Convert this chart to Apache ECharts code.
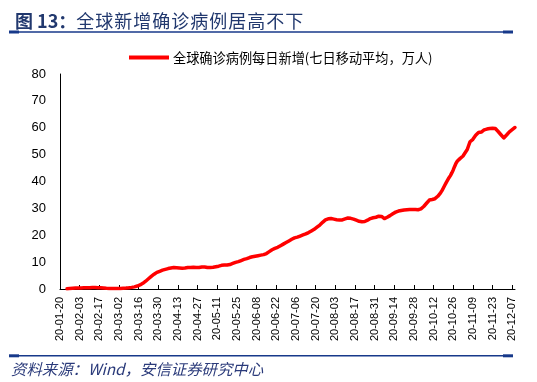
<!DOCTYPE html>
<html><head><meta charset="utf-8">
<script src="https://cdn.jsdelivr.net/npm/echarts/dist/echarts.min.js"></script>
<style>html,body{margin:0;padding:0;background:#fff}#c{width:537px;height:382px}</style>
</head><body><div id="c"></div>
<script>
const titleBold = '图 13：';
const titleRest = '全球新增确诊病例居高不下';
const seriesName = '全球确诊病例每日新增(七日移动平均，万人)';
const sourceText = '资料来源：Wind，安信证券研究中心';
const startDate = [2020, 0, 20];
const dayCount = 325;
const yMin = 0, yMax = 80, yStep = 10;
const tickEveryDays = 14;

// 7-day moving average of new global cases (10k persons), one value per day from 2020-01-20
const dailyCases = [
  null,null,null,null,null,0.1,0.15,0.2,0.25,0.3,0.3,0.35,0.35,0.4,
  0.4,0.4,0.45,0.45,0.5,0.5,0.5,0.5,0.5,0.55,0.6,0.6,0.55,0.5,
  0.5,0.45,0.4,0.35,0.3,0.25,0.2,0.2,0.2,0.2,0.2,0.2,0.2,0.2,
  0.2,0.2,0.25,0.3,0.3,0.35,0.4,0.45,0.5,0.6,0.7,0.8,0.95,1.1,
  1.3,1.5,1.8,2.1,2.5,2.9,3.3,3.8,4.2,4.7,5.1,5.5,5.9,6.2,
  6.4,6.6,6.8,7.0,7.1,7.3,7.4,7.6,7.7,7.8,7.9,8.0,8.0,7.9,
  7.9,7.8,7.8,7.7,7.7,7.8,7.9,8.0,8.0,8.0,8.1,8.1,8.1,8.0,
  8.0,8.0,8.1,8.2,8.2,8.2,8.1,8.0,8.0,8.0,8.0,8.1,8.2,8.3,
  8.4,8.5,8.7,8.8,8.9,8.9,8.9,8.9,9.0,9.1,9.3,9.5,9.7,9.9,
  10.0,10.2,10.4,10.6,10.8,11.0,11.1,11.3,11.5,11.7,11.9,12.0,12.1,12.2,
  12.3,12.4,12.5,12.6,12.7,12.8,12.9,13.2,13.5,13.9,14.3,14.6,14.9,15.1,
  15.3,15.5,15.8,16.1,16.4,16.7,17.0,17.3,17.6,17.9,18.2,18.5,18.8,19.0,
  19.1,19.3,19.5,19.7,19.9,20.1,20.3,20.5,20.7,21.0,21.3,21.6,21.9,22.2,
  22.6,23.0,23.4,23.8,24.3,24.8,25.3,25.7,25.9,26.1,26.2,26.2,26.1,26.0,
  25.9,25.8,25.7,25.7,25.6,25.7,25.9,26.1,26.3,26.4,26.4,26.3,26.2,26.0,
  25.8,25.6,25.4,25.2,25.1,25.0,25.0,25.1,25.3,25.6,25.9,26.2,26.4,26.5,
  26.6,26.7,26.9,27.1,27.2,27.0,26.5,26.2,26.4,26.7,27.0,27.3,27.7,28.0,
  28.3,28.6,28.8,29.0,29.1,29.2,29.3,29.4,29.5,29.5,29.6,29.6,29.6,29.6,
  29.6,29.6,29.5,29.5,29.6,29.8,30.2,30.7,31.3,31.9,32.6,33.1,33.3,33.3,
  33.4,33.6,34.0,34.5,35.1,35.8,36.6,37.6,38.6,39.6,40.5,41.4,42.2,43.2,
  44.3,45.6,46.8,47.6,48.2,48.6,49.0,49.5,50.3,51.0,51.9,53.4,54.8,55.3,
  55.7,56.4,57.2,57.9,58.2,58.3,58.4,58.8,59.2,59.4,59.5,59.6,59.7,59.8,
  59.8,59.8,59.7,59.5,58.6,58.0,57.4,56.8,56.2,56.5,57.3,58.0,58.5,58.9,
  59.3,59.7,60.1
];

function pad(n){return (n<10?'0':'')+n;}
const categories = [];
for (let i = 0; i < dayCount; i++) {
  const d = new Date(Date.UTC(startDate[0], startDate[1], startDate[2] + i));
  categories.push(String(d.getUTCFullYear()).slice(2) + '-' + pad(d.getUTCMonth()+1) + '-' + pad(d.getUTCDate()));
}

const NAVY = '#17398a';
const CJK = '"Noto Sans CJK SC", "Liberation Sans", sans-serif';
const LAT = '"Liberation Sans", Arial, sans-serif';

const titleRich = '{a|' + titleBold + '}' + titleRest.split('').map(ch => '{b|' + ch + '}').join('');

const chart = echarts.init(document.getElementById('c'), null, {renderer: 'canvas'});
chart.setOption({
  animation: false,
  backgroundColor: '#fff',
  title: {
    text: titleRich,
    left: 10, top: 7,
    textStyle: {
      rich: {
        a: {fontSize: 18, fontWeight: 'bold', color: '#21386e', fontFamily: CJK},
        b: {fontSize: 18, fontWeight: 'normal', color: '#21386e', fontFamily: CJK, padding: [0, 1, 0, 0]}
      }
    }
  },
  legend: {
    data: [{name: seriesName, icon: 'rect'}],
    left: 124, top: 46,
    itemWidth: 40, itemHeight: 4, itemGap: 10,
    textStyle: {fontSize: 13.2, color: '#000', fontFamily: CJK, padding: [0,0,0,-1]}
  },
  grid: {left: 60, right: 22, top: 74, bottom: 93, containLabel: false},
  xAxis: {
    type: 'category',
    data: categories,
    boundaryGap: false,
    axisLine: {lineStyle: {color: '#000', width: 1}},
    axisTick: {show: true, inside: true, length: 4, interval: tickEveryDays - 1, lineStyle: {color: '#000'}},
    axisLabel: {interval: tickEveryDays - 1, rotate: 90, fontSize: 11, color: '#000', fontFamily: LAT, margin: 8},
    splitLine: {show: false}
  },
  yAxis: {
    type: 'value',
    min: yMin, max: yMax, interval: yStep,
    axisLine: {show: true, lineStyle: {color: '#000', width: 1}},
    axisTick: {show: false},
    axisLabel: {fontSize: 13, color: '#000', fontFamily: LAT, margin: 14},
    splitLine: {show: false}
  },
  series: [{
    name: seriesName,
    type: 'line',
    data: dailyCases,
    showSymbol: false,
    symbol: 'none',
    color: '#ff0000',
    lineStyle: {color: '#ff0000', width: 3.5, join: 'round', cap: 'round'},
    smooth: false
  }],
  graphic: [
    {type: 'rect', shape: {x: 9, y: 31.2, width: 504, height: 1.6}, style: {fill: NAVY}},
    {type: 'rect', shape: {x: 9, y: 30.5, width: 10, height: 3}, style: {fill: NAVY}},
    {type: 'rect', shape: {x: 503, y: 30.5, width: 10, height: 3}, style: {fill: NAVY}},
    {type: 'rect', shape: {x: 9, y: 355, width: 504, height: 1.6}, style: {fill: NAVY}},
    {type: 'rect', shape: {x: 9, y: 354.3, width: 10, height: 3}, style: {fill: NAVY}},
    {type: 'rect', shape: {x: 503, y: 354.3, width: 10, height: 3}, style: {fill: NAVY}},
    {type: 'text', left: 11, top: 361, style: {text: sourceText, fill: '#2a3a7a', font: 'italic 15.4px ' + CJK}}
  ]
});
</script></body></html>
